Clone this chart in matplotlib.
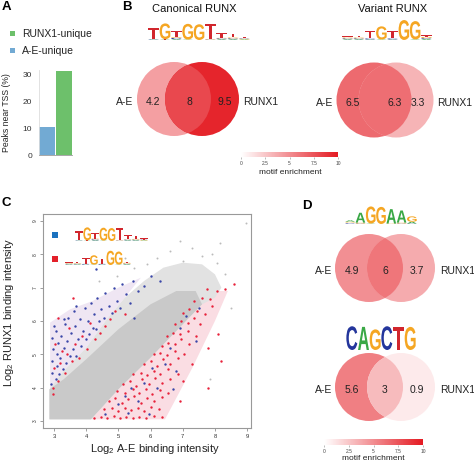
import matplotlib
matplotlib.use("Agg")
import matplotlib.pyplot as plt
import numpy as np
from matplotlib.patches import Circle, PathPatch, Polygon, Rectangle
from matplotlib.textpath import TextPath
from matplotlib.font_manager import FontProperties
import matplotlib.transforms as mtransforms
from matplotlib.colors import LinearSegmentedColormap, Normalize
import matplotlib.colorbar as mcolorbar

plt.rcParams['font.family'] = ['Liberation Sans', 'DejaVu Sans']
plt.rcParams['mathtext.fontset'] = 'custom'
plt.rcParams['mathtext.rm'] = 'Liberation Sans'

W, H = 474, 467

# ---------------- data ----------------
# Panel A
bar_categories = ["A-E-unique", "RUNX1-unique"]
bar_values = [10.5, 31.0]
bar_colors = ["#72aad3", "#6dc06b"]
bar_ticks = [0, 10, 20, 30]

# Panel B / D venn values: (left-only, overlap, right-only)
venn_canonical = [4.2, 8, 9.5]
venn_variant = [6.5, 6.3, 3.3]
venn_ets = [4.9, 6, 3.7]
venn_ebox = [5.6, 3, 0.9]
venn_left_label = "A-E"
venn_right_label = "RUNX1"
cbar_ticks = [0, 2.5, 5, 7.5, 10]
cbar_ticklabels = ["0", "2.5", "5", "7.5", "10"]

# Sequence logos: columns, bottom -> top (letter, bits)
logo_canonical = [
    [('A', 0.05), ('C', 0.05), ('T', 1.3)],
    [('A', 0.05), ('T', 0.05), ('G', 1.85)],
    [('A', 0.1), ('C', 0.15), ('G', 0.1), ('T', 0.75)],
    [('A', 0.05), ('G', 1.85)],
    [('G', 1.85)],
    [('C', 0.05), ('G', 0.05), ('T', 1.8)],
    [('A', 0.1), ('C', 0.1), ('G', 0.05), ('T', 0.6)],
    [('A', 0.1), ('C', 0.1), ('G', 0.1), ('T', 0.45)],
    [('A', 0.08), ('G', 0.08), ('C', 0.05), ('T', 0.15)],
]
logo_variant = [
    [('A', 0.08), ('C', 0.08), ('G', 0.08), ('T', 0.1)],
    [('A', 0.08), ('C', 0.08), ('G', 0.08), ('T', 0.12)],
    [('A', 0.05), ('C', 0.1), ('T', 0.75)],
    [('A', 0.05), ('G', 1.25)],
    [('A', 0.05), ('C', 0.1), ('T', 0.7)],
    [('G', 1.9)],
    [('A', 0.05), ('G', 1.75)],
    [('A', 0.1), ('C', 0.08), ('G', 0.12), ('T', 0.15)],
]
logo_ets = [
    [('C', 0.08), ('T', 0.08), ('G', 0.1), ('A', 0.15)],
    [('C', 0.05), ('G', 0.1), ('A', 1.1)],
    [('A', 0.05), ('G', 1.9)],
    [('G', 1.9)],
    [('G', 0.05), ('A', 1.6)],
    [('C', 0.05), ('G', 0.1), ('A', 1.35)],
    [('C', 0.05), ('A', 0.2), ('G', 0.6)],
]
logo_ebox = [
    [('C', 1.9)],
    [('A', 1.85)],
    [('G', 1.65)],
    [('C', 1.9)],
    [('T', 1.85)],
    [('G', 1.85)],
]
letter_colors = {'A': '#3aa846', 'C': '#24369c', 'G': '#f5a623', 'T': '#d1262d'}

# Panel C scatter
gray_outer_x = [2.86, 2.86, 3.3, 4.0, 4.6, 5.2, 5.8, 6.4, 7.0, 7.6, 8.0, 8.2, 8.0, 7.6, 7.0, 6.0, 5.0, 4.15]
gray_outer_y = [3.05, 3.95, 4.5, 5.2, 6.0, 6.7, 7.2, 7.6, 7.75, 7.7, 7.4, 7.0, 6.7, 6.5, 5.9, 4.9, 3.95, 3.05]
gray_core_x = [2.86, 4.15, 5.0, 6.0, 7.0, 7.6, 7.4, 6.8, 6.0, 5.0, 4.0, 3.3, 2.86]
gray_core_y = [3.05, 3.05, 3.95, 4.9, 5.9, 6.5, 6.9, 6.9, 6.5, 5.75, 4.85, 4.25, 3.95]
band_ul_x = [2.88, 2.88, 3.5, 4.2, 5.0, 5.7, 5.2, 4.6, 4.0, 3.3]
band_ul_y = [3.95, 5.95, 6.35, 6.6, 7.0, 7.3, 6.7, 6.0, 5.2, 4.5]
band_lr_x = [4.15, 6.45, 7.3, 8.0, 8.4, 7.9, 7.6, 7.0, 6.0, 5.0]
band_lr_y = [3.05, 3.05, 4.6, 6.0, 6.9, 6.9, 6.5, 5.9, 4.9, 3.95]

gray_x = [6.2, 7.0, 7.6, 8.15, 8.95, 4.95, 5.5, 8.3, 8.5, 7.85, 6.6, 7.3, 5.9, 4.4, 6.9, 7.9, 8.05, 5.2]
gray_y = [7.9, 7.8, 7.95, 8.35, 8.95, 7.35, 7.6, 7.4, 6.4, 4.25, 8.1, 8.2, 7.7, 7.2, 8.4, 8.0, 7.75, 7.9]

blue_x = [2.92, 2.95, 2.93, 2.97, 2.94, 2.99, 3.05, 3.08, 3.10, 3.12, 3.06, 3.15, 3.20, 3.22, 3.28,
          3.30, 3.33, 3.38, 3.42, 3.45, 3.50, 3.52, 3.58, 3.62, 3.66, 3.70, 3.75, 3.80, 3.85, 3.90,
          3.95, 4.00, 4.05, 4.10, 4.15, 4.20, 4.25, 4.30, 4.35, 4.40, 4.45, 4.55, 4.60, 4.70, 4.80,
          4.85, 4.95, 5.05, 5.10, 5.25, 5.35, 5.45, 5.60, 5.80, 6.00, 4.30, 3.70, 3.30, 5.50, 6.30,
          4.60, 5.00, 5.30, 5.60, 5.95, 5.40, 5.80, 6.20, 6.05, 6.45, 6.60, 6.90, 7.10, 7.40, 6.80,
          7.50, 5.20, 6.70]
blue_y = [4.10, 4.45, 4.80, 5.15, 5.50, 5.85, 4.25, 4.65, 5.00, 5.35, 5.70, 4.40, 4.90, 5.55, 4.55,
          5.20, 5.90, 4.75, 5.40, 6.10, 4.95, 5.65, 5.15, 6.30, 5.85, 4.95, 5.45, 6.05, 5.25, 5.70,
          6.40, 5.45, 6.00, 5.60, 6.55, 5.80, 6.20, 5.75, 6.70, 6.00, 6.35, 6.10, 6.85, 6.45, 6.25,
          7.00, 6.60, 6.40, 7.10, 6.80, 6.55, 7.20, 6.90, 7.05, 7.35, 7.55, 6.45, 6.05, 6.10, 7.20,
          3.20, 3.50, 3.25, 3.60, 3.20, 4.00, 4.15, 4.00, 4.60, 4.70, 5.20, 5.80, 6.15, 5.40, 4.50,
          6.40, 3.75, 3.95]

red_x = [2.96, 3.00, 3.02, 3.14, 3.18, 3.25, 3.35, 3.40, 3.48, 3.55, 3.65, 3.78, 3.88, 4.02, 4.12,
         4.28, 4.42, 4.58, 4.75, 4.90, 3.12, 3.60, 5.20, 2.98,
         4.25, 4.45, 4.65, 4.85, 5.05, 5.25, 5.45, 5.65, 5.85, 6.10, 6.35, 4.55, 4.80, 5.00, 5.20,
         5.40, 5.60, 5.80, 6.00, 6.25, 4.70, 4.90, 5.10, 5.30, 5.50, 5.70, 5.90, 6.10, 6.35, 4.95,
         5.20, 5.45, 5.65, 5.85, 6.05, 6.30, 6.55, 5.15, 5.35, 5.55, 5.75, 5.95, 6.15, 6.35, 6.60,
         5.45, 5.70, 5.90, 6.10, 6.30, 6.55, 6.85, 5.80, 6.00, 6.20, 6.40, 6.60, 6.85, 6.10, 6.30,
         6.50, 6.75, 7.05, 6.35, 6.55, 6.75, 6.95, 7.20, 6.50, 6.70, 6.90, 7.15, 7.40, 6.75, 6.95,
         7.15, 7.35, 7.55, 7.00, 7.20, 7.45, 7.70, 7.90, 7.35, 7.60, 7.85, 8.05, 8.30, 7.75, 7.00,
         7.30, 7.80, 8.10, 7.80, 8.20, 8.60, 6.90]
red_y = [4.00, 4.60, 5.30, 4.20, 4.75, 5.10, 4.45, 5.00, 5.80, 4.80, 5.30, 4.90, 5.55, 5.15, 5.95,
         5.45, 5.65, 5.85, 6.05, 6.30, 6.10, 6.70, 6.20, 3.80,
         3.10, 3.12, 3.08, 3.15, 3.10, 3.13, 3.08, 3.12, 3.10, 3.15, 3.12, 3.35, 3.40, 3.30, 3.38,
         3.32, 3.40, 3.30, 3.42, 3.35, 3.60, 3.70, 3.55, 3.65, 3.75, 3.55, 3.68, 3.60, 3.72, 3.90,
         3.85, 3.95, 3.85, 3.95, 3.82, 3.92, 3.85, 4.10, 4.20, 4.05, 4.25, 4.10, 4.30, 4.15, 4.25,
         4.40, 4.45, 4.38, 4.50, 4.42, 4.55, 4.40, 4.70, 4.80, 4.65, 4.85, 4.72, 4.90, 5.00, 5.05,
         4.98, 5.10, 5.00, 5.25, 5.35, 5.30, 5.45, 5.30, 5.55, 5.65, 5.60, 5.70, 5.55, 5.90, 6.00,
         5.95, 6.10, 5.90, 6.25, 6.35, 6.30, 6.20, 6.45, 6.60, 6.70, 6.65, 6.90, 6.95, 6.95, 4.20,
         4.70, 5.20, 5.60, 4.00, 4.80, 7.10, 3.60]
scatter_xticks = [3, 4, 5, 6, 7, 8, 9]
scatter_yticks = [3, 4, 5, 6, 7, 8, 9]

# ---------------- figure ----------------
fig = plt.figure(figsize=(W / 100, H / 100), dpi=100)


def px(left, top, width, height):
    return [left / W, 1 - (top + height) / H, width / W, height / H]


cmap = LinearSegmentedColormap.from_list("enr", ["#ffffff", "#e41a22"])
norm = Normalize(0, 10)

# Panel A bar chart
axA = fig.add_axes(px(39, 70, 33, 85))
axA.bar([0, 1], [bar_values[0], bar_values[1]], width=1.0, color=bar_colors, edgecolor='none')
axA.set_xlim(-0.5, 1.5)
axA.set_ylim(0, 31.5)
axA.set_yticks(bar_ticks)
axA.set_yticklabels([str(t) for t in bar_ticks], fontsize=6, color='#333333')
axA.tick_params(axis='y', length=0, pad=5)
axA.set_xticks([])
for s in ['top', 'right']:
    axA.spines[s].set_visible(False)
axA.spines['left'].set_color('#dddddd')
axA.spines['left'].set_linewidth(0.6)
axA.spines['bottom'].set_color('#999999')
axA.spines['bottom'].set_linewidth(0.6)

# Panel C scatter
axC = fig.add_axes(px(43, 214, 208, 214))
axC.add_patch(Polygon(np.column_stack([band_ul_x, band_ul_y]), closed=True, fc='#efe6f3', ec='none', zorder=1))
axC.add_patch(Polygon(np.column_stack([band_lr_x, band_lr_y]), closed=True, fc='#fadde3', ec='none', zorder=1))
axC.add_patch(Polygon(np.column_stack([gray_outer_x, gray_outer_y]), closed=True, fc='#e2e2e2', ec='none', zorder=2))
axC.add_patch(Polygon(np.column_stack([gray_core_x, gray_core_y]), closed=True, fc='#c9c9c9', ec='none', zorder=3))
axC.scatter(gray_x, gray_y, s=2, c='#bbbbbb', lw=0, zorder=4)
axC.scatter(red_x, red_y, s=3, c='#e8213a', lw=0, zorder=5)
axC.scatter(blue_x, blue_y, s=3, c='#3a46a8', lw=0, zorder=6)
axC.set_xlim(2.66, 9.12)
axC.set_ylim(2.79, 9.21)
axC.set_xticks(scatter_xticks)
axC.set_xticklabels([str(t) for t in scatter_xticks], fontsize=4.2, color='#333333')
axC.set_yticks(scatter_yticks)
axC.set_yticklabels([str(t) for t in scatter_yticks], fontsize=3.5, color='#333333', rotation=90, va='center')
axC.tick_params(length=2, width=0.5, pad=2, color='#777777')
for s in axC.spines.values():
    s.set_color('#999999')
    s.set_linewidth(0.8)

# Colorbars
for (l, t, w, h) in [(241, 152, 97, 5), (324, 439, 99, 6)]:
    cax = fig.add_axes(px(l, t, w, h))
    cb = mcolorbar.ColorbarBase(cax, cmap=cmap, norm=norm, orientation='horizontal', ticks=cbar_ticks)
    cb.outline.set_visible(False)
    cb.ax.set_xticklabels(cbar_ticklabels, fontsize=3.5, color='#444444')
    cb.ax.tick_params(length=1.5, width=0.4, pad=1.5, color='#888888')

# Overlay in pixel coordinates
ax0 = fig.add_axes([0, 0, 1, 1], zorder=10)
ax0.set_xlim(0, W)
ax0.set_ylim(H, 0)
ax0.axis('off')
ax0.patch.set_visible(False)

FP = FontProperties(family='Liberation Sans', weight='bold')


def letter(ch, x, yb, w, h, color):
    if h <= 0:
        return
    tp = TextPath((0, 0), ch, size=1, prop=FP)
    bb = tp.get_extents()
    t = mtransforms.Affine2D().translate(-bb.x0, -bb.y0).scale(w / bb.width, -h / bb.height).translate(x, yb)
    ax0.add_patch(PathPatch(t.transform_path(tp), fc=color, ec='none', lw=0))


def logo(cols, x0, x1, yb, px_per_bit):
    cw = (x1 - x0) / len(cols)
    for i, col in enumerate(cols):
        cur = yb
        for ch, bits in col:
            hh = bits * px_per_bit
            letter(ch, x0 + i * cw + cw * 0.03, cur, cw * 0.94, hh, letter_colors[ch])
            cur -= hh


def venn(vals, cx1, cx2, cy, r, left_text_right, right_text_left, num_x, fs=7.5):
    c1 = Circle((cx1, cy), r, fc=cmap(norm(vals[0])), ec='none')
    c2 = Circle((cx2, cy), r, fc=cmap(norm(vals[2])), ec='none')
    ax0.add_patch(c1)
    ax0.add_patch(c2)
    c3 = Circle((cx1, cy), r, fc=cmap(norm(vals[1])), ec='none')
    ax0.add_patch(c3)
    c3.set_clip_path(c2)
    ty = cy + 3
    for v, xx in zip(vals, num_x):
        ax0.text(xx, ty, f"{v:g}", ha='center', va='center', fontsize=fs, color='#222222')
    ax0.text(left_text_right, ty, venn_left_label, ha='right', va='center', fontsize=fs, color='#222222')
    ax0.text(right_text_left, ty, venn_right_label, ha='left', va='center', fontsize=fs, color='#222222')


# panel letters
for lab, x, y in [("A", 2, 7), ("B", 122, 7), ("C", 2, 203), ("D", 302, 206)]:
    ax0.text(x, y, lab, fontsize=9.5, fontweight='bold', ha='left', va='center', color='black')

# Panel A legend and label
ax0.add_patch(Rectangle((10, 31), 5, 5, fc=bar_colors[1], ec='none'))
ax0.text(22, 34, bar_categories[1], fontsize=7.5, va='center', ha='left', color='#222222')
ax0.add_patch(Rectangle((10, 48), 5, 5, fc=bar_colors[0], ec='none'))
ax0.text(22, 51, bar_categories[0], fontsize=7.5, va='center', ha='left', color='#222222')
ax0.text(7, 113, "Peaks near TSS (%)", rotation=90, fontsize=6.2, ha='center', va='center', color='#222222')

# Panel B
ax0.text(194, 9, "Canonical RUNX", fontsize=8, ha='center', va='center', color='#111111')
ax0.text(393, 9, "Variant RUNX", fontsize=8, ha='center', va='center', color='#111111')
logo(logo_canonical, 148, 250, 40, 8.5)
logo(logo_variant, 342, 432, 40, 10.5)
venn(venn_canonical, 174, 202, 99, 37, 133, 243, [153, 189, 225])
venn(venn_variant, 374, 396, 100, 37.5, 333, 437, [353, 395, 418])
ax0.text(290, 172, "motif enrichment", fontsize=6, ha='center', va='center', color='#222222')

# Panel C legend & labels
ax0.add_patch(Rectangle((52, 232), 6, 6, fc='#1b72bf', ec='none'))
ax0.add_patch(Rectangle((52, 256), 6, 6, fc='#e3202a', ec='none'))
logo(logo_canonical, 75, 148, 241, 7)
logo(logo_variant, 65, 131, 265, 7.5)
ax0.text(155, 449, r"Log$_\mathregular{2}$ A-E binding intensity", fontsize=8, ha='center', va='center', color='#222222')
ax0.text(9, 313, r"Log$_\mathregular{2}$ RUNX1 binding intensity", fontsize=8, rotation=90, ha='center', va='center', color='#222222')

# Panel D
logo(logo_ets, 345, 417, 224, 9)
venn(venn_ets, 369, 401, 268, 34, 332, 440, [352, 385, 417])
logo(logo_ebox, 346, 416, 350, 12.5)
venn(venn_ebox, 369, 401, 387, 34, 332, 440, [352, 385, 417])
ax0.text(373, 459, "motif enrichment", fontsize=6, ha='center', va='center', color='#222222')

fig.savefig("out.png", dpi=100)
